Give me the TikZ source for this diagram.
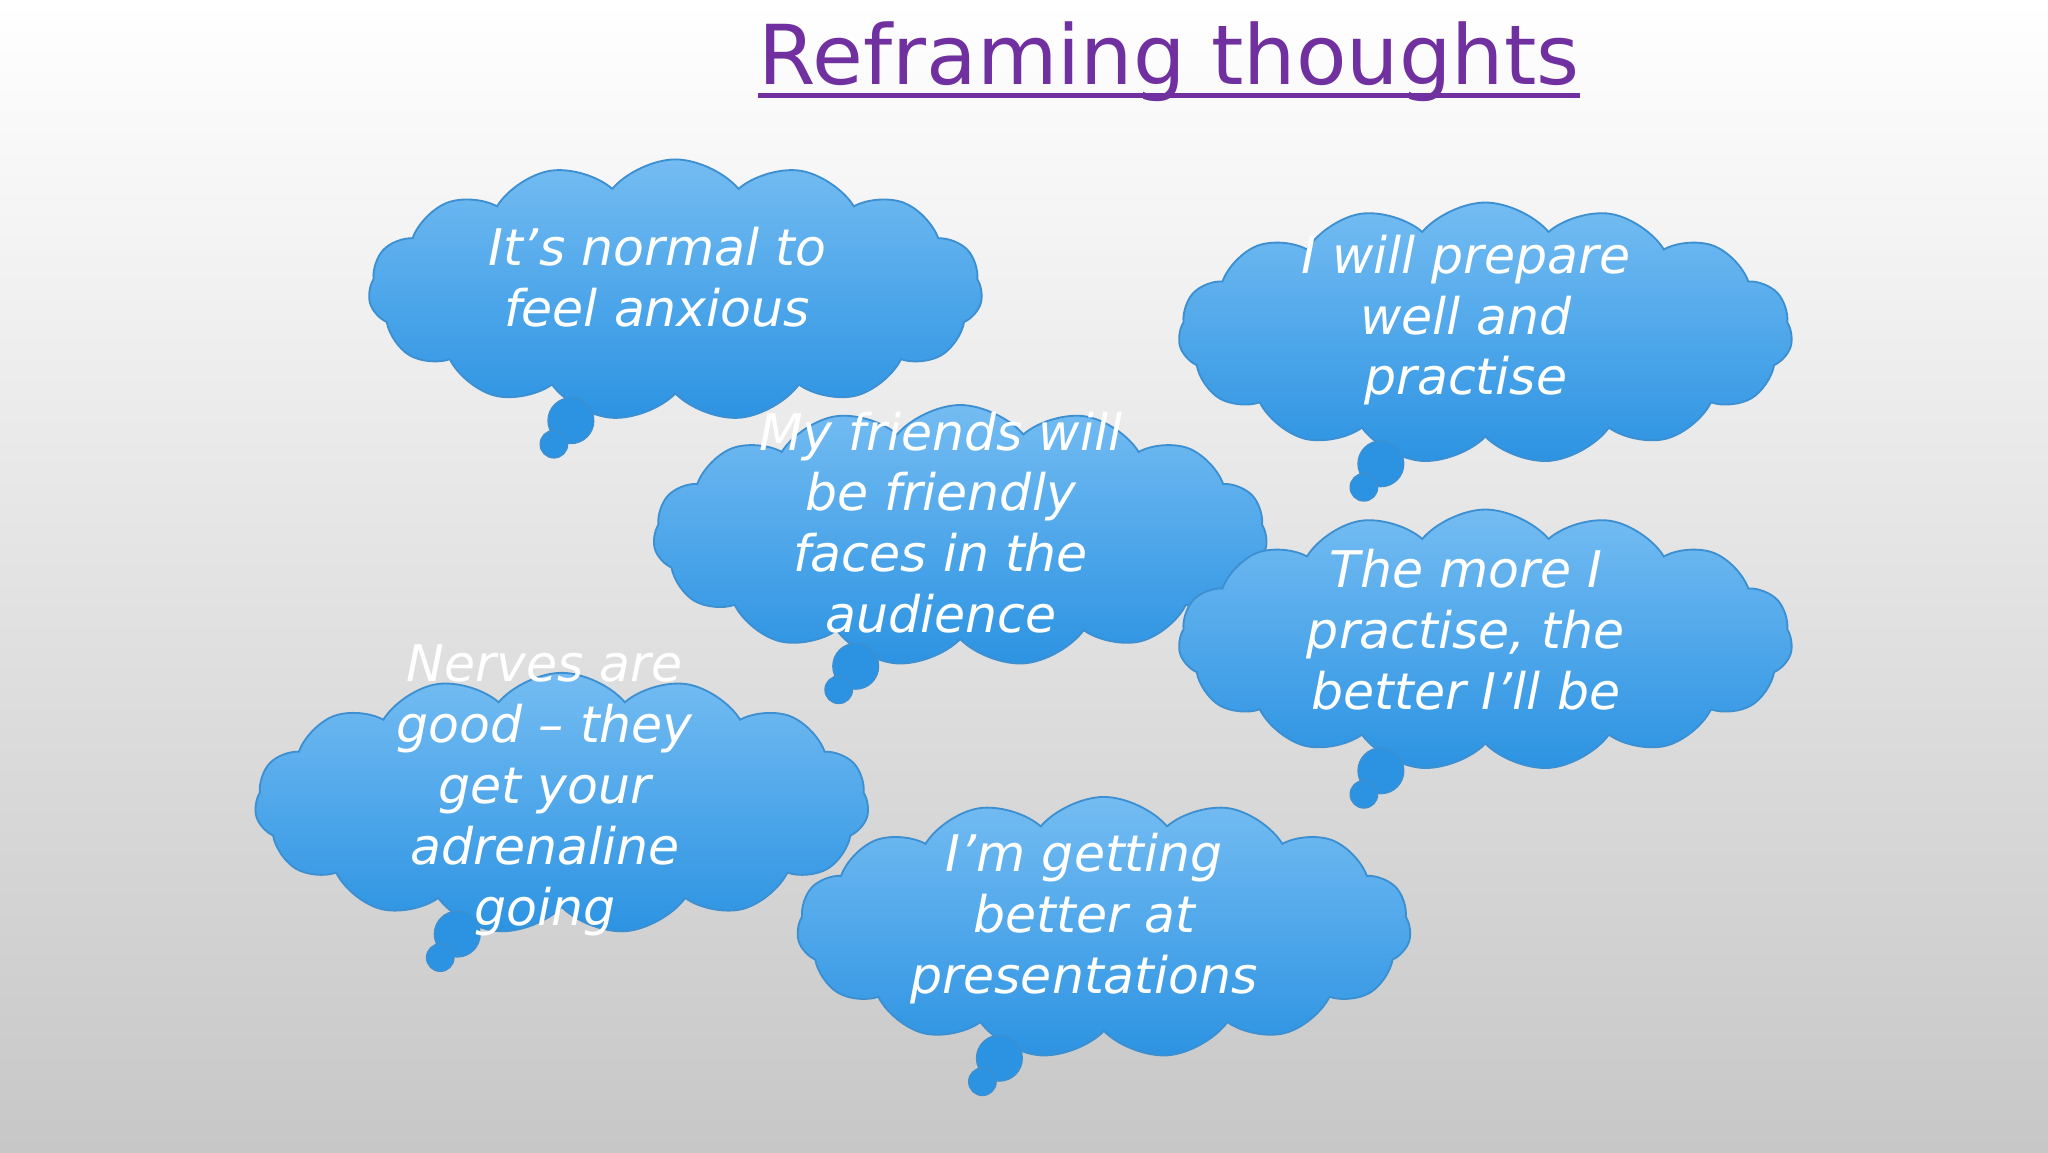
\documentclass[tikz,border=0pt]{standalone}
\usepackage{fontspec}
\setmainfont{DejaVu Sans}
\usetikzlibrary{shapes.symbols,shadows}
\definecolor{ctop}{HTML}{74BCF2}
\definecolor{cbot}{HTML}{2C93E2}
\definecolor{cedge}{HTML}{3C8FD0}
\definecolor{titlec}{HTML}{7030A0}
\tikzset{
 thought/.style={cloud, cloud puffs=15, cloud puff arc=100, aspect=2.3, minimum width=9.4cm, minimum height=4cm, draw=cedge, top color=ctop, bottom color=cbot, line width=0.8pt, inner sep=0pt},
 bub/.style={circle, draw=cedge, fill=cbot, line width=0.6pt, inner sep=0pt},
 ctext/.style={text=white, align=center, font=\fontsize{22}{26.5}\selectfont\itshape}
}
\newcommand{\cl}[6]{%
 \node[thought] (#1) at (#2*0.02,-#3*0.02) {};
 \node[bub, minimum size=0.7cm] (#1b1) at (#2*0.02-80*0.02,-#3*0.02-100*0.02) {};
 \node[bub, minimum size=0.42cm] (#1b2) at (#2*0.02-93*0.02,-#3*0.02-118*0.02) {};
 \node[ctext] (#1t) at (#4*0.02,-#5*0.02) {#6};}
\begin{document}
\begin{tikzpicture}
\shade[top color=white, bottom color=black!22] (0,0) rectangle (31.36,-17.64);
\useasboundingbox (0,0) rectangle (31.36,-17.64);
\node[text=titlec, font=\fontsize{36}{42}\selectfont, inner sep=0pt] (title) at (895*0.02,-47*0.02) {Reframing thoughts};
\draw[titlec, line width=2pt] ([yshift=-5pt]title.base west) -- ([yshift=-5pt]title.base east);
\cl{a}{517}{222}{503}{212}{It’s normal to\\feel anxious}
\cl{b}{1137}{255}{1122}{245}{I will prepare\\well and\\practise}
\cl{c}{735}{410}{720}{400}{My friends will\\be friendly\\faces in the\\audience}
\cl{d}{1137}{490}{1122}{482}{The more I\\practise, the\\better I’ll be}
\cl{e}{430}{615}{417}{605}{Nerves are\\good – they\\get your\\adrenaline\\going}
\cl{f}{845}{710}{830}{703}{I’m getting\\better at\\presentations}
\end{tikzpicture}
\end{document}
